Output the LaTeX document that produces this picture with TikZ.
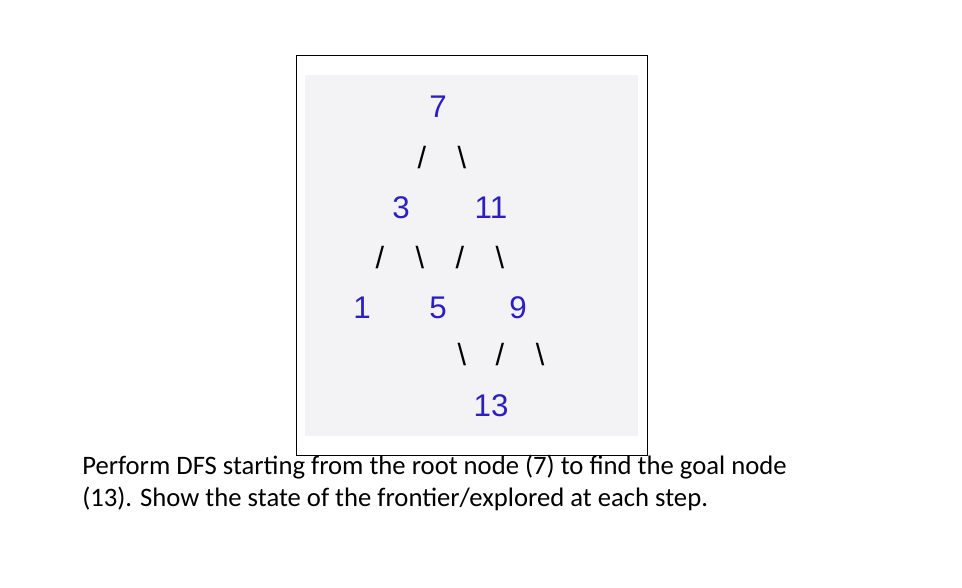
\documentclass[tikz,border=0pt]{standalone}
\usepackage{fontspec}
\setmainfont{Liberation Sans}
\newfontfamily\calibrifont{Carlito}
\definecolor{numblue}{HTML}{2B1FC4}
\definecolor{panel}{HTML}{F3F3F5}
\begin{document}
\begin{tikzpicture}[x=0.75pt,y=-0.75pt,
  num/.style={text=numblue,font=\fontsize{23.5}{26}\selectfont,inner sep=0pt},
  sl/.style={text=black,font=\fontsize{23}{26}\selectfont,inner sep=0pt}]
\useasboundingbox (0,0) rectangle (962,587);
\fill[white] (0,0) rectangle (962,587);
\draw[line width=0.75pt] (296,55) rectangle (647,455);
\fill[panel] (305,75) rectangle (638,436);
\node[num] (n7) at (438,107) {7};
\node[sl] (s1) at (422,158) {/};
\node[sl] (s2) at (462,158) {\textbackslash};
\node[num] (n3) at (401,208) {3};
\node[num] (n11) at (491,208) {11};
\node[sl] (s3) at (380,258) {/};
\node[sl] (s4) at (420,258) {\textbackslash};
\node[sl] (s5) at (460,258) {/};
\node[sl] (s6) at (500,258) {\textbackslash};
\node[num] (n1) at (362,308) {1};
\node[num] (n5) at (438,308) {5};
\node[num] (n9) at (518,308) {9};
\node[sl] (s7) at (462,355) {\textbackslash};
\node[sl] (s8) at (500,355) {/};
\node[sl] (s9) at (540,355) {\textbackslash};
\node[num] (n13) at (491,406) {13};
\node[anchor=base west,align=left,inner sep=0pt,font=\calibrifont\fontsize{20}{24}\selectfont] (txt) at (82,506)
 {Perform DFS starting from the root node (7) to find the goal node\\(13). Show the state of the frontier/explored at each step.};
\end{tikzpicture}
\end{document}
